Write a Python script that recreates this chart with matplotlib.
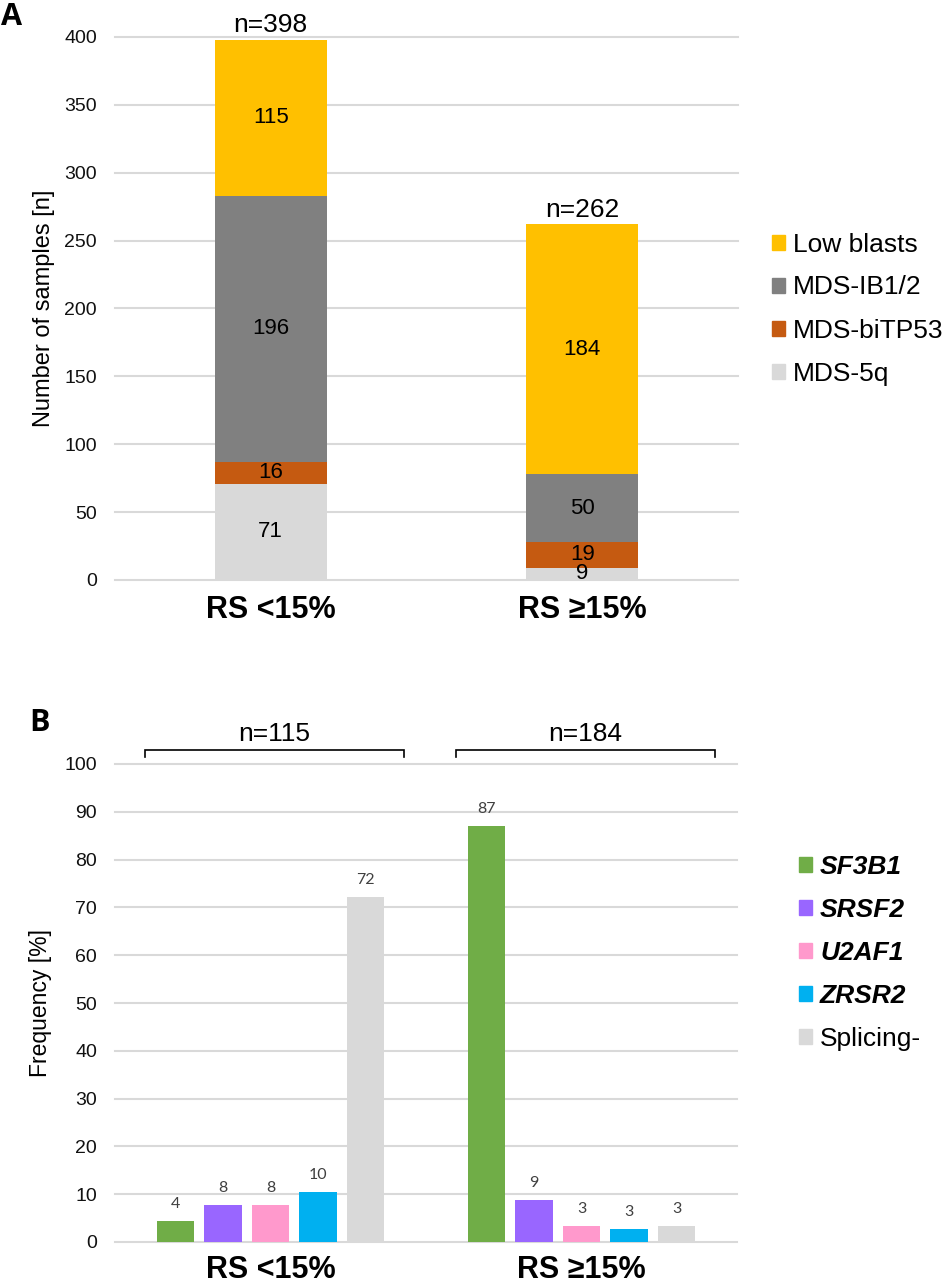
import numpy as np
import matplotlib
matplotlib.use('Agg')
import matplotlib.pyplot as plt
from matplotlib.patches import Patch

# panel A data
groups = ['RS <15%', 'RS \u226515%']
mds_5q = [71, 9]
mds_bitp53 = [16, 19]
mds_ib = [196, 50]
low_blasts = [115, 184]
stack_names = ['MDS-5q', 'MDS-biTP53', 'MDS-IB1/2', 'Low blasts']
stack_colors = ['#D9D9D9', '#C55A11', '#808080', '#FFC000']

# panel B data (percent of low-blast samples)
genes = ['SF3B1', 'SRSF2', 'U2AF1', 'ZRSR2', 'Splicing-']
gene_colors = ['#70AD47', '#9966FF', '#FF99CC', '#00B0F0', '#D9D9D9']
freq_rs_low = [4.3, 7.8, 7.8, 10.4, 72.2]
freq_rs_high = [87.0, 8.7, 3.3, 2.7, 3.3]
n_b = [115, 184]

plt.rcParams['font.family'] = ['Liberation Sans', 'DejaVu Sans']

W, H = 949, 1283
fig = plt.figure(figsize=(W / 100, H / 100), dpi=100)

def box(l, t, r, b):
    return [l / W, 1 - b / H, (r - l) / W, (b - t) / H]

def style_axes(ax, ylim, step, xpad):
    ax.set_ylim(*ylim)
    ax.set_xlim(-0.5, 1.5)
    ax.set_yticks(np.arange(ylim[0], ylim[1] + 1, step))
    for s in ax.spines.values():
        s.set_visible(False)
    ax.yaxis.grid(True, color='#D9D9D9', lw=1.5)
    ax.set_axisbelow(True)
    for gl in ax.get_ygridlines():
        gl.set_clip_on(False)
    ax.tick_params(axis='both', length=0)
    ax.tick_params(axis='y', labelsize=14, pad=13, labelcolor='#111111')
    ax.set_xticks([0, 1])
    ax.set_xticklabels(groups, fontsize=22, fontweight='bold')
    ax.tick_params(axis='x', pad=xpad)

# ---- panel A ----
axA = fig.add_axes(box(115, 37, 738, 580))
style_axes(axA, (0, 400), 50, 11)
x = np.arange(len(groups))
bottom = np.zeros(len(groups))
handles = []
for vals, name, col in zip([mds_5q, mds_bitp53, mds_ib, low_blasts], stack_names, stack_colors):
    vals = np.array(vals)
    axA.bar(x, vals, 0.36, bottom=bottom, color=col, label=name)
    for xi, b0, v in zip(x, bottom, vals):
        axA.text(xi, b0 + v / 2, str(v), ha='center', va='center', fontsize=16)
    bottom = bottom + vals
    handles.append(Patch(color=col, label=name))
for xi, tot in zip(x, bottom):
    axA.annotate('n=%d' % tot, (xi, tot), xytext=(0, 5.4), textcoords='offset points',
                 ha='center', va='baseline', fontsize=19)
axA.set_ylabel('Number of samples [n]', fontsize=17)
axA.yaxis.set_label_coords(-0.096, 0.5)
fig.legend(handles[::-1], [h.get_label() for h in handles[::-1]],
           loc='center left', bbox_to_anchor=(772 / W, 1 - 309 / H),
           frameon=False, fontsize=19, borderpad=0, borderaxespad=0,
           handlelength=0.5, handleheight=0.5, handletextpad=0.3,
           labelspacing=0.72)

# ---- panel B ----
axB = fig.add_axes(box(115, 764, 737, 1242))
style_axes(axB, (0, 100), 10, 9)
width = 0.121
step = 0.153
for gi, vals in enumerate([freq_rs_low, freq_rs_high]):
    for i, (v, col) in enumerate(zip(vals, gene_colors)):
        xi = gi + (i - 2) * step
        axB.bar(xi, v, width, color=col)
        axB.annotate('%d' % round(v), (xi, v), xytext=(0, 9.4), textcoords='offset points',
                     ha='center', va='baseline', fontsize=11.5, color='#404040',
                     family='Lato')
for gi, n in enumerate(n_b):
    l, r = gi - 0.405, gi + 0.428
    axB.plot([l, l, r, r], [101.5, 102.9, 102.9, 101.5], color='black', lw=1.2,
             clip_on=False, solid_joinstyle='miter')
    axB.text((l + r) / 2, 104.8, 'n=%d' % n, ha='center', va='baseline', fontsize=19)
axB.set_ylabel('Frequency [%]', fontsize=16.5)
axB.yaxis.set_label_coords(-0.101, 0.5)
legB = fig.legend([Patch(color=c) for c in gene_colors], genes,
                  loc='center left', bbox_to_anchor=(799 / W, 1 - 953 / H),
                  frameon=False, fontsize=19, borderpad=0, borderaxespad=0,
                  handlelength=0.5, handleheight=0.5, handletextpad=0.3,
                  labelspacing=0.72)
for t in legB.get_texts()[:4]:
    t.set_fontweight('bold')
    t.set_fontstyle('italic')

fig.text(1 / W, 1 - 25 / H, 'A', fontsize=22, fontweight='bold', family='Open Sans',
         ha='left', va='baseline')
fig.text(29 / W, 1 - 731 / H, 'B', fontsize=22, fontweight='bold', family='Open Sans',
         ha='left', va='baseline')

fig.savefig('out.png', dpi=100)
